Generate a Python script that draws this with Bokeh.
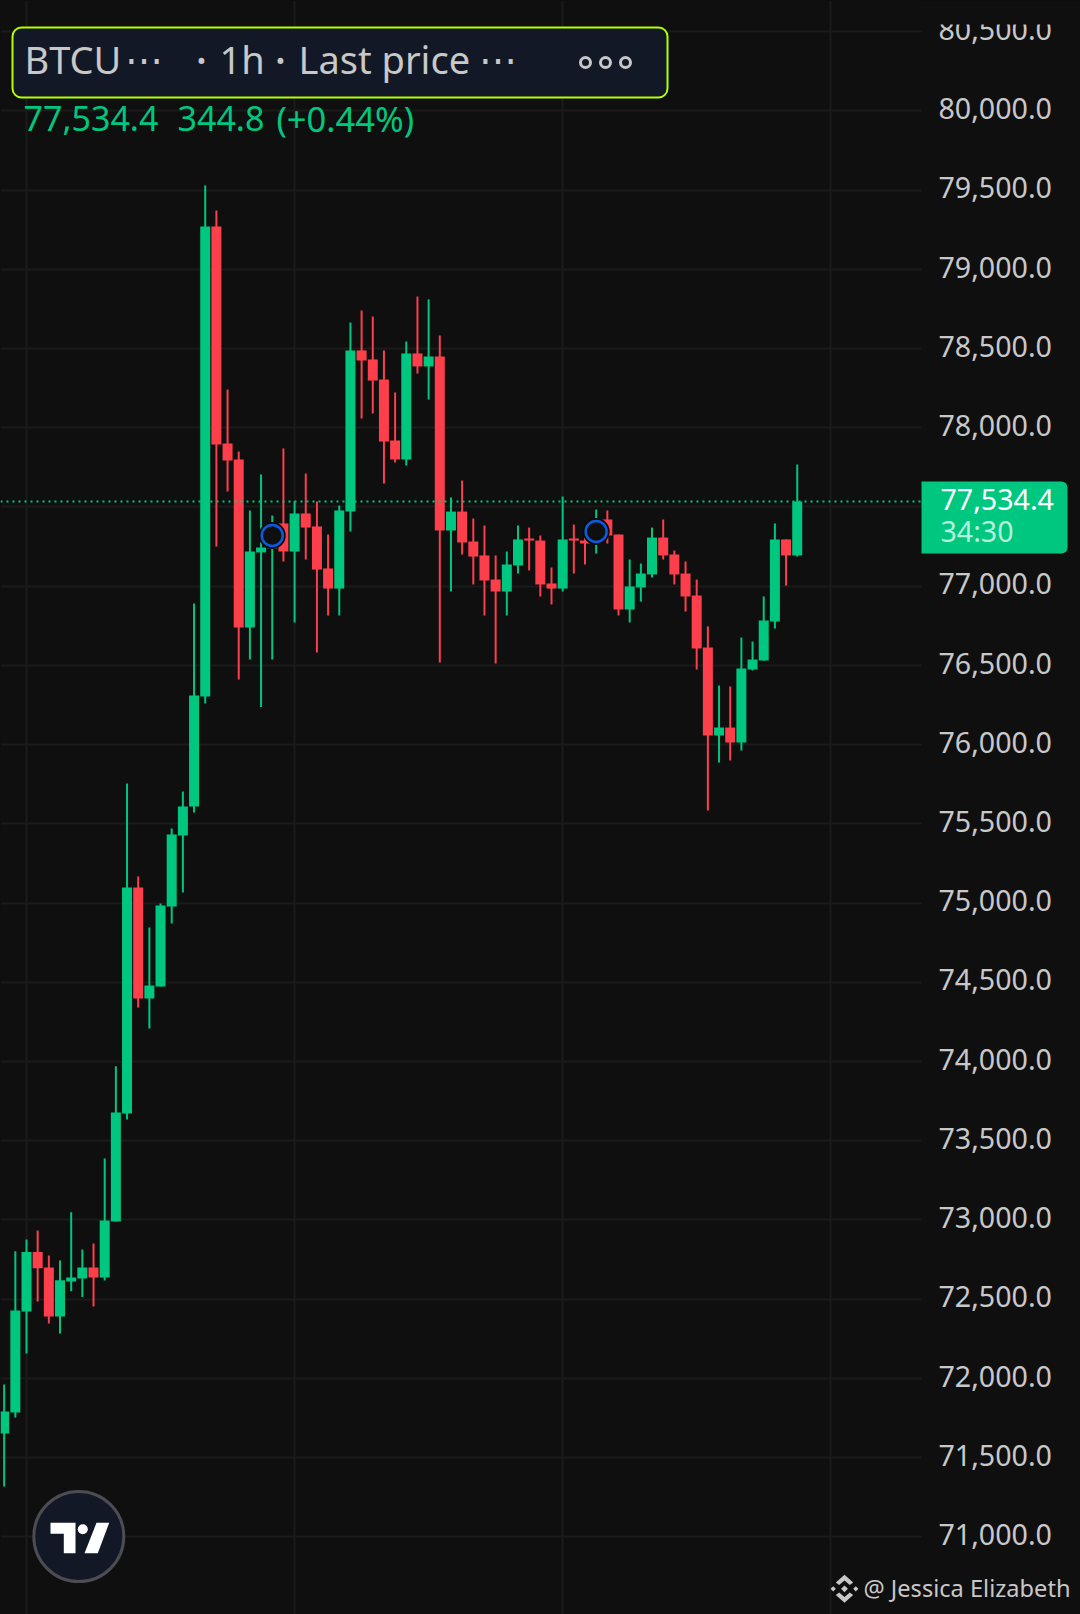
from bokeh.plotting import figure
from bokeh.models import (ColumnDataSource, Range1d, FixedTicker, NumeralTickFormatter, LinearAxis, Grid,
                          Span, Label, BoxAnnotation)
from bokeh.embed import file_html
from bokeh.resources import INLINE

first_hour = -2
opens = [71652,71785,72422,72797,72700,72391,72612,72631,72700,72637,72990,73672,75098,74398,74473.5,74978,
         75426.5,75610,76304,79270,77901,77800,76739,77213,77238,77396,77219,77459,77377,77112,76985,77471,
         78488,78431,78304.5,77919.5,77800,78469,78387,78450,77351.5,77471,77282,77194,77042,76966.5,77131,
         77301,77288,77017,76985,77301,77288,77288,77421,77326,76853,76992,77074,77307,77200,77080,76941,
         76613,76058,76108,76013.5,76474,76531,76777,77295,77194]
closes = [71791,72428.5,72797,72695,72391,72619,72637,72700,72637,72997,73678,75098,74398,74480,74985,75433,
          75610,76310,79270,77894,77793,76739,77219,77244,77251,77219,77459,77370,77105,76985,77478,78488,
          78424.5,78298,77913,77800,78469,78387,78450,77351.5,77471,77276,77187,77036,76966.5,77137,77295,
          77288,77011,76985,77295,77288,77269.5,77415,77320,76853,76998,77080,77307,77194,77074,76935,76607,
          76058,76108,76013.5,76480.5,76537,76783.5,77295,77194,77534.4]
highs = [71961.5,72802,72877,72933,72776,72744,73048,72813.5,72851,73388,73970,75755,75168,74846,74997,75471,
         75704,76891,79529,79371,78241,77850,77478,77705,77446,77869,77537,77711,77534.5,77326,77509,78664,
         78740,78702,78488,78222.5,78544,78828,78810,78582,77560,77667,77427,77383,77194,77219,77383,77370,
         77320,77118,77566,77389,77320,77484,77478,77326,77168.5,77143,77370,77421,77225,77156,77042,76746,
         76373,76367,76676,76651,76935,77396,77295,77768]
lows = [71318,71753,72157,72485,72346,72283,72550,72513,72454,72618,72990,73634,74341,74208,74473.5,74871,
        75067,75572,76260,77251,77598,76411,76537,76237.5,76537,77156,76771,77168.5,76581.5,76815,76815,77345,
        78058,78090,77648,77781,77762,78342,78178,76518,76966.5,77200,77011,76815,76512,76815,77080,77099,
        76935,76884.5,76966.5,77080,77137,77206,77269.5,76815,76771,76903,77055,77168.5,77011,76840,76474,
        75584,75887,75900,75963,76468,76531,76733,77004,77187]
hours = [first_hour + i for i in range(len(opens))]

grid_hours = [0, 24, 48, 72]
price_ticks = [71000 + 500 * i for i in range(20)]
marker_hours = [22, 51]
marker_prices = [77320, 77345]
symbol_text = "BTCU"
interval_text = "1h"
source_text = "Last price"
ellipsis_text = "⋯"
last_price = "77,534.4"
change_abs = "344.8"
change_pct = "(+0.44%)"
countdown = "34:30"
watermark = "@ Jessica Elizabeth"

BG = "#0f0f0f"; GRID = "#1b1b1b"; UP = "#00c77f"; DOWN = "#fd3f4b"
TXT = "#c8c8c8"; PANEL = "#131826"; LIME = "#b4ff00"; FONT = "Noto Sans"

PX0, PXS = 26.0, 11.17       # pixel x of hour 0, pixels per hour
PY0, PYS = 80696.6, 6.3115   # price at canvas top, price per pixel
W, H, FW = 1080, 1614, 921
def X(px): return (px - PX0) / PXS
def Y(py): return PY0 - PYS * py

p = figure(width=W, height=H, output_backend="svg", toolbar_location=None,
           x_range=Range1d(X(0), X(W)), y_range=Range1d(Y(H), Y(0)),
           x_axis_location=None, y_axis_location=None,
           background_fill_color=BG, border_fill_color=BG, outline_line_color=None,
           min_border_left=0, min_border_top=0, min_border_bottom=0, min_border_right=0)
p.grid.visible = False

p.add_layout(Grid(dimension=0, ticker=FixedTicker(ticks=grid_hours), grid_line_color=GRID, grid_line_width=2,
                  level="underlay"))
p.add_layout(Grid(dimension=1, ticker=FixedTicker(ticks=price_ticks), grid_line_color=GRID, grid_line_width=2,
                  cross_bounds=(X(0), X(FW)), level="underlay"))

# axis labels sit a little above their grid lines in the reference
LABEL_UP = 2.3
p.extra_y_ranges["labels"] = Range1d(Y(H + LABEL_UP), Y(LABEL_UP))
ax = LinearAxis(y_range_name="labels", fixed_location=X(FW), ticker=FixedTicker(ticks=price_ticks),
                formatter=NumeralTickFormatter(format="0,0.0"))
ax.axis_line_color = None
ax.major_tick_line_color = None
ax.minor_tick_line_color = None
ax.major_tick_out = 0
ax.major_tick_in = 0
ax.major_label_standoff = 17
ax.major_label_text_font = FONT
ax.major_label_text_font_size = "28.6px"
ax.major_label_text_color = TXT
p.add_layout(ax, "right")

src = ColumnDataSource(dict(
    x=hours, o=opens, c=closes, h=highs, l=lows,
    top=[max(a, b) for a, b in zip(opens, closes)],
    bot=[min(a, b) for a, b in zip(opens, closes)],
    color=[UP if c >= o else DOWN for o, c in zip(opens, closes)]))
p.segment("x", "h", "x", "l", source=src, line_color="color", line_width=2)
p.vbar("x", width=10 / PXS, top="top", bottom="bot", source=src, fill_color="color", line_color=None)

p.scatter(marker_hours, marker_prices, size=27, marker="circle", fill_color="#0a0a0a", line_color=None)
p.scatter(marker_hours, marker_prices, size=21, marker="circle", fill_color=BG,
          line_color="#0a5be0", line_width=2.5)

def box(l, r, t, b, fill, line=None, lw=0, radius=0, level="annotation"):
    p.add_layout(BoxAnnotation(left=X(l), right=X(r), top=Y(t), bottom=Y(b), fill_color=fill, fill_alpha=1,
                               line_color=line, line_width=lw, line_alpha=1, border_radius=radius, level=level,
                               editable=False))

def label(text, px, py, size, color, align="left", base="middle", font=FONT):
    p.add_layout(Label(x=X(px), y=Y(py), text=text, text_font=font, text_font_size=f"{size}px",
                       text_color=color, text_align=align, text_baseline=base, level="overlay"))

p.add_layout(Span(location=closes[-1], dimension="width", line_color=UP, line_width=2, line_dash="2 4"))
# the dotted line stops at the price column
box(FW, W, 481, 553, BG)

# clip of the topmost price label
box(FW, W, 0, 24, BG)

# header
box(12, 667, 27, 97, PANEL, LIME, 2, 9)
label(symbol_text, 24, 58, 38, TXT)
label(ellipsis_text, 143, 58, 38, TXT, "center")
label("·", 201, 58, 46, TXT, "center")
label(interval_text, 219, 58, 38, TXT)
label("·", 280, 58, 46, TXT, "center")
label(source_text, 298, 58, 38, TXT)
label(ellipsis_text, 497, 58, 38, TXT, "center")
p.scatter([X(585), X(605), X(625)], [Y(62)] * 3, size=10, marker="circle", fill_color=None,
          line_color=TXT, line_width=3, level="overlay")
label(last_price, 23, 118, 34, UP)
label(change_abs, 177, 118, 34, UP)
label(change_pct, 276, 118, 34.5, UP)

# last price tag
box(FW, 1067, 481, 553, UP, radius=(0, 6, 6, 0))
label(last_price, 940, 499, 28.6, "#ffffff")
label(countdown, 940, 530, 28.6, "#b5f0da")

# logo
p.scatter([X(78.3)], [Y(1536)], size=90, marker="circle", fill_color=PANEL, line_color="#4c4c52",
          line_width=3, level="overlay")
p.patch([X(v) for v in (50, 75, 75, 63.3, 63.3, 50)],
        [Y(v) for v in (1522.3, 1522.3, 1552.7, 1552.7, 1533.3, 1533.3)],
        fill_color="#ffffff", line_color=None, level="overlay")
p.patch([X(v) for v in (96, 108.7, 97.3, 84)], [Y(v) for v in (1522.3, 1522.3, 1552.7, 1552.7)],
        fill_color="#ffffff", line_color=None, level="overlay")
p.scatter([X(82.3)], [Y(1528.7)], size=10, marker="circle", fill_color="#ffffff", line_color=None, level="overlay")

# watermark
label(watermark, 863, 1587, 23.6, TXT)
cx, cy = 844, 1588.3
for ys in (-1, 1):
    pts = [(0, 14), (8.7, 6.3), (5.3, 3.7), (0, 8.3), (-5.3, 3.7), (-8.7, 6.3)]
    p.patch([X(cx + a) for a, b in pts], [Y(cy + ys * b) for a, b in pts], fill_color=TXT, line_color=None,
            level="overlay")
for dx, r in ((0, 3.4), (-11.3, 2.6), (11.3, 2.6)):
    pts = [(r, 0), (0, r), (-r, 0), (0, -r)]
    p.patch([X(cx + dx + a) for a, b in pts], [Y(cy + b) for a, b in pts], fill_color=TXT, line_color=None,
            level="overlay")

html = file_html(p, INLINE)
html = html.replace("</head>", f"<style>html,body{{margin:0!important;padding:0;background:{BG};overflow:hidden}}</style></head>", 1)
open("out.html", "w").write(html)
